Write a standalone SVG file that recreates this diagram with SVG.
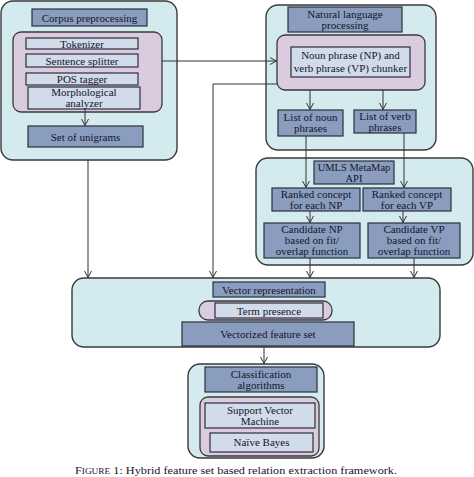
<svg xmlns="http://www.w3.org/2000/svg" width="474" height="477" viewBox="0 0 474 477">
<defs>
<marker id="arr" viewBox="0 0 8 8" refX="7.5" refY="4" markerWidth="8" markerHeight="8" markerUnits="userSpaceOnUse" orient="auto">
<path d="M1,0.5 L7.5,4 L1,7.5" fill="none" stroke="#333" stroke-width="1"/>
</marker>
</defs>
<style>
.outer{fill:#d3eaee;stroke:#3a3a3a;stroke-width:1.4}
.pink{fill:#dacbdf;stroke:#3a3a3a;stroke-width:1.3}
.hdr{fill:#8a9dbf;stroke:#2e2e3a;stroke-width:1.2}
.inner{fill:#d1dbea;stroke:#2e2e3a;stroke-width:1.2}
text{font-family:"Liberation Serif","Times New Roman",serif;font-size:11px;fill:#15152a;text-anchor:middle}
.sm{font-size:10.5px}
.conn{fill:none;stroke:#333;stroke-width:1}
</style>
<rect width="474" height="477" fill="#ffffff"/>

<g id="corpus">
<rect class="outer" x="1" y="1" width="176" height="159" rx="12"/>
<rect class="hdr" x="32" y="9" width="115" height="17"/>
<text x="89.5" y="21.5">Corpus preprocessing</text>
<rect class="pink" x="13" y="32" width="149" height="80" rx="8"/>
<rect class="inner" x="26" y="38" width="112" height="11"/>
<text x="82" y="47.5">Tokenizer</text>
<rect class="inner" x="26" y="54" width="112" height="13"/>
<text x="82" y="64.5">Sentence splitter</text>
<rect class="inner" x="26" y="73" width="112" height="12"/>
<text x="82" y="83">POS tagger</text>
<rect class="inner" x="28" y="87" width="112" height="22"/>
<text x="84" y="96">Morphological</text>
<text x="84" y="107">analyzer</text>
<rect class="hdr" x="28" y="126" width="115" height="21"/>
<text x="85.5" y="140.5">Set of unigrams</text>
</g>

<g id="nlp">
<rect class="outer" x="266" y="5" width="170" height="145" rx="12"/>
<rect class="hdr" x="288" y="7" width="114" height="25"/>
<text x="345" y="18">Natural language</text>
<text x="345" y="29">processing</text>
<rect class="pink" x="277" y="35" width="148" height="55" rx="8"/>
<rect class="inner" x="291" y="47" width="119" height="30"/>
<text x="350.5" y="59">Noun phrase (NP) and</text>
<text x="350.5" y="72">verb phrase (VP) chunker</text>
<rect class="hdr" x="278" y="110" width="65" height="26"/>
<text x="310.5" y="120.5">List of noun</text>
<text x="310.5" y="132">phrases</text>
<rect class="hdr" x="354" y="110" width="62" height="23"/>
<text x="385" y="119.5">List of verb</text>
<text x="385" y="130.5">phrases</text>
</g>

<g id="umls">
<rect class="outer" x="256" y="158" width="217" height="107" rx="12"/>
<rect class="hdr" x="314" y="161" width="80" height="23"/>
<text class="sm" x="354" y="171">UMLS MetaMap</text>
<text class="sm" x="354" y="182">API</text>
<rect class="hdr" x="272" y="188" width="88" height="23"/>
<text x="316" y="198">Ranked concept</text>
<text x="316" y="209">for each NP</text>
<rect class="hdr" x="363" y="188" width="88" height="23"/>
<text x="407" y="198">Ranked concept</text>
<text x="407" y="209">for each VP</text>
<rect class="hdr" x="264" y="223" width="96" height="35"/>
<text x="312" y="233">Candidate NP</text>
<text x="312" y="244">based on fit/</text>
<text x="312" y="255">overlap function</text>
<rect class="hdr" x="368" y="223" width="92" height="35"/>
<text x="414" y="233">Candidate VP</text>
<text x="414" y="244">based on fit/</text>
<text x="414" y="255">overlap function</text>
</g>

<g id="vector">
<rect class="outer" x="72" y="278" width="368" height="69" rx="12"/>
<rect class="hdr" x="213" y="282" width="112" height="15"/>
<text x="269" y="293.5">Vector representation</text>
<rect class="pink" x="199" y="301" width="133" height="19" rx="9"/>
<rect class="inner" x="215" y="303" width="108" height="15"/>
<text x="269" y="314.5">Term presence</text>
<rect class="hdr" x="182" y="322" width="172" height="24"/>
<text x="268" y="338">Vectorized feature set</text>
</g>

<g id="classification">
<rect class="outer" x="188" y="364" width="136" height="94" rx="12"/>
<rect class="hdr" x="205" y="367" width="112" height="25"/>
<text x="261" y="378">Classification</text>
<text x="261" y="389">algorithms</text>
<rect class="pink" x="200" y="397" width="119" height="59" rx="8"/>
<rect class="inner" x="205" y="403" width="110" height="25"/>
<text x="260" y="414">Support Vector</text>
<text x="260" y="425">Machine</text>
<rect class="inner" x="210" y="433" width="103" height="19"/>
<text x="261.5" y="446">Naïve Bayes</text>
</g>

<g id="connectors">
<path class="conn" d="M85,109 V125.5" marker-end="url(#arr)"/>
<path class="conn" d="M162,61 H276.5" marker-end="url(#arr)"/>
<path class="conn" d="M277,84 H213 V277.5" marker-end="url(#arr)"/>
<path class="conn" d="M88,160 V277.5" marker-end="url(#arr)"/>
<path class="conn" d="M310,90 V109.5" marker-end="url(#arr)"/>
<path class="conn" d="M383,90 V109.5" marker-end="url(#arr)"/>
<path class="conn" d="M306,136 V187.5" marker-end="url(#arr)"/>
<path class="conn" d="M404,133 V187.5" marker-end="url(#arr)"/>
<path class="conn" d="M310,211 V222.5" marker-end="url(#arr)"/>
<path class="conn" d="M403,211 V222.5" marker-end="url(#arr)"/>
<path class="conn" d="M310,258 V277.5" marker-end="url(#arr)"/>
<path class="conn" d="M414,258 V277.5" marker-end="url(#arr)"/>
<path class="conn" d="M264,347 V363.5" marker-end="url(#arr)"/>
</g>

<text x="236" y="474" style="font-size:10.5px" textLength="322" lengthAdjust="spacingAndGlyphs">F<tspan style="font-size:8px">IGURE</tspan> 1: Hybrid feature set based relation extraction framework.</text>
</svg>
